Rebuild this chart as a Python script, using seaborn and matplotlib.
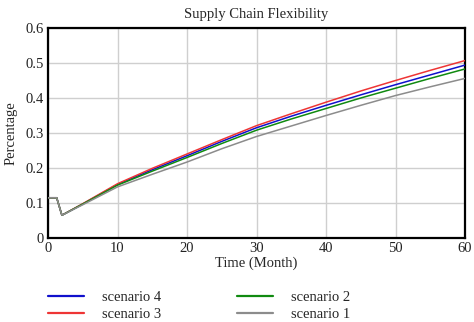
import matplotlib
matplotlib.use("Agg")
import matplotlib.pyplot as plt
import seaborn as sns
import pandas as pd

months = [0, 1.25, 2, 5, 10, 15, 20, 25, 30, 35, 40, 45, 50, 55, 60]
scenario_4 = [0.115, 0.115, 0.065, 0.097, 0.153, 0.195, 0.235, 0.276, 0.315, 0.348, 0.379, 0.409, 0.438, 0.466, 0.494]
scenario_3 = [0.115, 0.115, 0.065, 0.098, 0.155, 0.199, 0.240, 0.281, 0.321, 0.355, 0.388, 0.420, 0.450, 0.479, 0.507]
scenario_2 = [0.115, 0.115, 0.065, 0.097, 0.151, 0.191, 0.230, 0.270, 0.308, 0.340, 0.370, 0.400, 0.428, 0.456, 0.483]
scenario_1 = [0.115, 0.115, 0.065, 0.095, 0.146, 0.182, 0.217, 0.255, 0.290, 0.320, 0.350, 0.379, 0.407, 0.432, 0.456]

names = ["scenario 4", "scenario 3", "scenario 2", "scenario 1"]
series = [scenario_4, scenario_3, scenario_2, scenario_1]
colors = ["#1010cc", "#ee3535", "#108a10", "#8c8c8c"]

rows = []
for name, vals in zip(names, series):
    for m, v in zip(months, vals):
        rows.append({"Month": m, "Value": v, "Scenario": name})
df = pd.DataFrame(rows)

sns.set_style("white")
plt.rcParams["font.family"] = ["Liberation Serif", "DejaVu Serif"]

fig = plt.figure(figsize=(4.74, 3.22), dpi=100)
ax = fig.add_axes([48 / 474, 1 - 238 / 322, 417 / 474, 210 / 322])

sns.lineplot(data=df, x="Month", y="Value", hue="Scenario",
             hue_order=names, palette=colors, linewidth=1.1,
             ax=ax, legend=False, sort=False)
for line in ax.get_lines():
    line.set_zorder(3)

ax.set_xlim(0, 60)
ax.set_ylim(0, 0.6)
ax.set_xticks([0, 10, 20, 30, 40, 50, 60])
ax.set_yticks([0, 0.1, 0.2, 0.3, 0.4, 0.5, 0.6])
ax.set_xticklabels(["0", "10", "20", "30", "40", "50", "60"])
ax.set_yticklabels(["0", "0.1", "0.2", "0.3", "0.4", "0.5", "0.6"])
ax.tick_params(axis="both", length=0, labelsize=10.5, pad=3, colors="#222222")
ax.grid(True, color="#cfcfcf", linewidth=1.0)
ax.set_axisbelow(True)
for s in ax.spines.values():
    s.set_visible(True)
    s.set_color("black")
    s.set_linewidth(1.6)

ax.set_title("Supply Chain Flexibility", fontsize=10.5, pad=7)
ax.set_xlabel("Time (Month)", fontsize=10.5, labelpad=1)
ax.set_ylabel("Percentage", fontsize=10.5, labelpad=6)

handles = [plt.Line2D([0], [0], color=c, linewidth=1.6) for c in colors]
fig.legend(handles, names, ncol=2, loc="upper left",
           bbox_to_anchor=(42 / 474, 1 - 285 / 322), frameon=False,
           fontsize=10.5, handlelength=2.5, handletextpad=1.2,
           columnspacing=5.2, labelspacing=0.25, borderaxespad=0)

fig.savefig("out.png", dpi=100)
